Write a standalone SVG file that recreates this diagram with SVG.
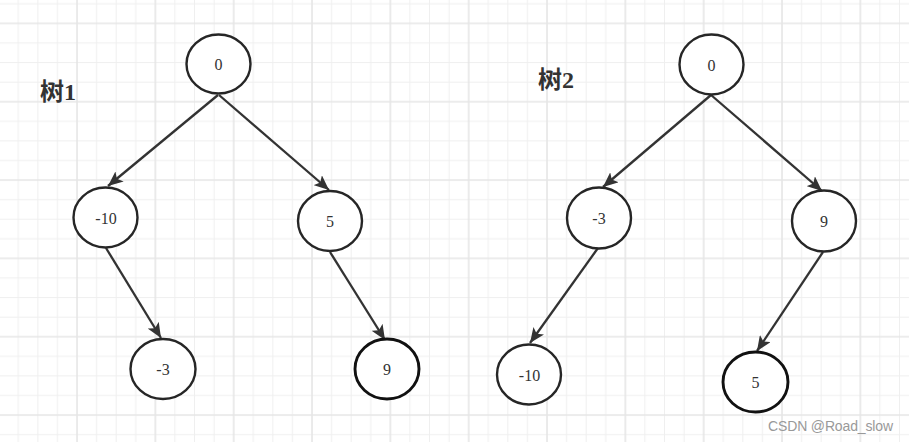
<svg xmlns="http://www.w3.org/2000/svg" width="909" height="442" viewBox="0 0 909 442">
  <defs>
    <pattern id="grid" patternUnits="userSpaceOnUse" x="-2.3" y="22.4" width="78.33" height="78.33">
      <g stroke="#efefef" stroke-width="1">
        <line x1="20.58" y1="0" x2="20.58" y2="78.33"/>
        <line x1="40.17" y1="0" x2="40.17" y2="78.33"/>
        <line x1="59.75" y1="0" x2="59.75" y2="78.33"/>
        <line x1="0" y1="20.58" x2="78.33" y2="20.58"/>
        <line x1="0" y1="40.17" x2="78.33" y2="40.17"/>
        <line x1="0" y1="59.75" x2="78.33" y2="59.75"/>
      </g>
      <g stroke="#e6e6e6" stroke-width="1.6">
        <line x1="1" y1="0" x2="1" y2="78.33"/>
        <line x1="0" y1="1" x2="78.33" y2="1"/>
      </g>
    </pattern>
    <marker id="arrow" markerWidth="16" markerHeight="13" refX="15" refY="6.5" orient="auto" markerUnits="userSpaceOnUse">
      <path d="M0,0 L15,6.5 L0,13 L3.5,6.5 Z" fill="#333"/>
    </marker>
    <style>
      .node ellipse { fill: #fff; stroke: #262626; stroke-width: 2.4; }
      .node.thick ellipse { stroke-width: 2.9; stroke: #111; }
      .node text { font-family: "Liberation Serif", serif; font-size: 16px; fill: #333; text-anchor: middle; }
      .edge { stroke: #333; stroke-width: 2.3; fill: none; marker-end: url(#arrow); }
      .title { font-family: "Liberation Serif", "Noto Sans CJK SC", serif; font-size: 24px; font-weight: bold; fill: #333; }
      .wm { font-family: "Liberation Sans", Arial, sans-serif; font-size: 14px; fill: #999; }
    </style>
  </defs>
  <rect x="0" y="0" width="909" height="442" fill="#fff"/>
  <rect x="0" y="0" width="909" height="442" fill="url(#grid)"/>

  <text class="title" x="40" y="100">树1</text>
  <text class="title" x="538" y="88">树2</text>

  <g id="connectors">
    <line class="edge" x1="218" y1="95" x2="108" y2="186"/>
    <line class="edge" x1="219" y1="95" x2="329" y2="190"/>
    <line class="edge" x1="106" y1="248" x2="161" y2="338"/>
    <line class="edge" x1="330" y1="252" x2="385" y2="340"/>
    <line class="edge" x1="711" y1="95" x2="603" y2="187"/>
    <line class="edge" x1="711" y1="95" x2="822" y2="191"/>
    <line class="edge" x1="598" y1="248" x2="530" y2="343"/>
    <line class="edge" x1="823" y1="252" x2="757" y2="351"/>
  </g>

  <g id="t1-root" class="node"><ellipse cx="218.5" cy="64" rx="32" ry="29.5"/><text x="218.5" y="69.5">0</text></g>
  <g id="t1-m10" class="node"><ellipse cx="105.5" cy="217.5" rx="32" ry="30"/><text x="106" y="223.5">-10</text></g>
  <g id="t1-5" class="node"><ellipse cx="330" cy="221" rx="32" ry="30"/><text x="330" y="227">5</text></g>
  <g id="t1-m3" class="node"><ellipse cx="163" cy="369" rx="32.5" ry="30"/><text x="163" y="375">-3</text></g>
  <g id="t1-9" class="node thick"><ellipse cx="387" cy="369" rx="32" ry="30"/><text x="387" y="375">9</text></g>

  <g id="t2-root" class="node"><ellipse cx="711.5" cy="64.5" rx="32" ry="30"/><text x="711.5" y="70.5">0</text></g>
  <g id="t2-m3" class="node"><ellipse cx="599" cy="218" rx="32" ry="30.5"/><text x="599" y="224">-3</text></g>
  <g id="t2-9" class="node"><ellipse cx="824" cy="221" rx="32" ry="30.5"/><text x="824" y="227">9</text></g>
  <g id="t2-m10" class="node"><ellipse cx="529" cy="374.5" rx="32" ry="30"/><text x="529.5" y="380.5">-10</text></g>
  <g id="t2-5" class="node thick"><ellipse cx="755.5" cy="382" rx="32.5" ry="30"/><text x="755.5" y="388">5</text></g>

  <text class="wm" x="768" y="431" textLength="125">CSDN @Road_slow</text>
</svg>
